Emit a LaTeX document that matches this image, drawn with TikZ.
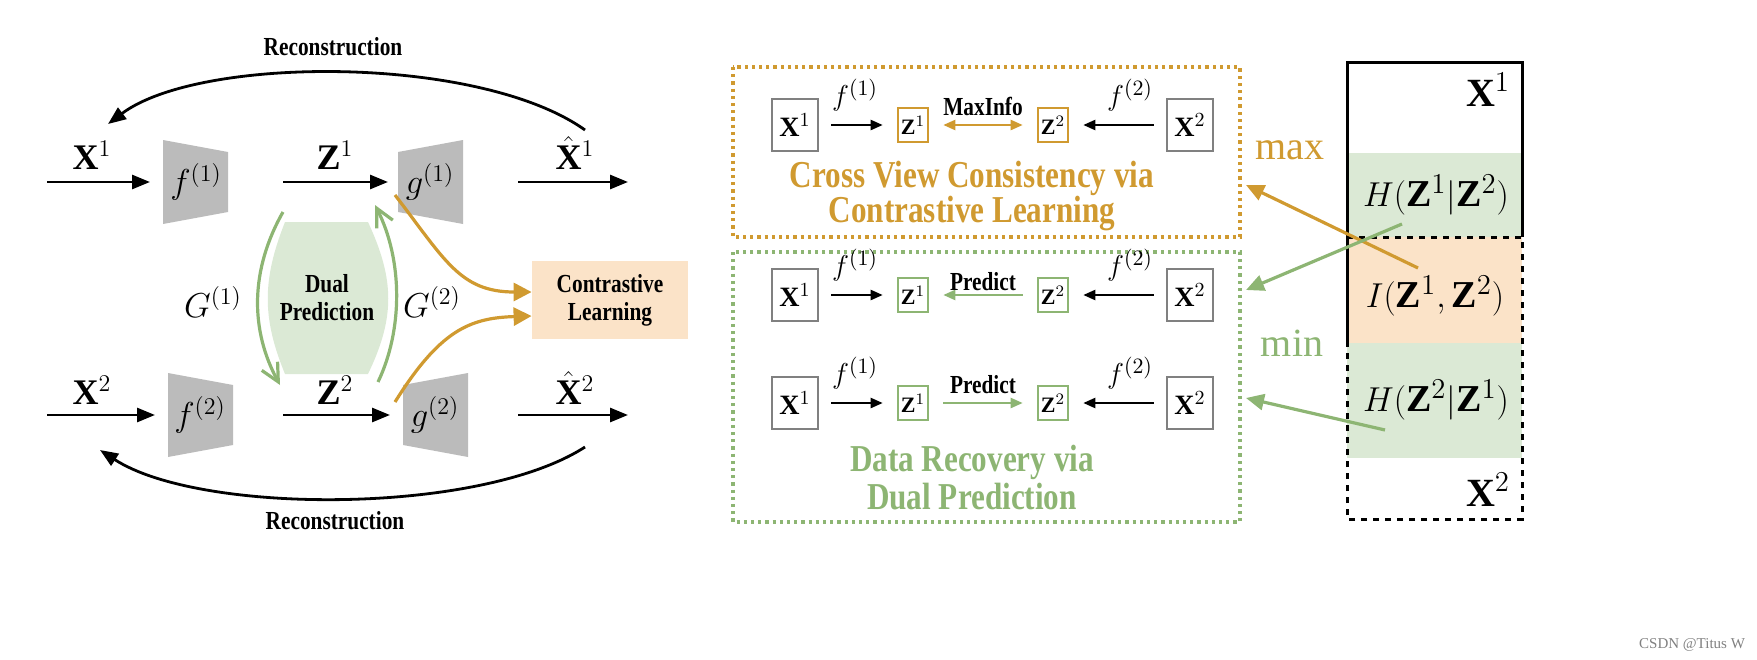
\documentclass[tikz,border=0pt]{standalone}
\usepackage{fontspec}
\setmainfont{Liberation Serif}
\usetikzlibrary{arrows.meta}
\definecolor{gold}{HTML}{D09A30}
\definecolor{grn}{HTML}{8DB573}
\definecolor{gfill}{HTML}{DBE9D5}
\definecolor{peach}{HTML}{FBE3C8}
\definecolor{trap}{HTML}{BBBBBB}
\newcommand{\cond}[1]{\scalebox{0.82}[1]{#1}}
\begin{document}
\begin{tikzpicture}[x=0.5pt,y=-0.5pt,
  arr/.style={-{Triangle[length=9pt,width=7pt]},line width=1.4pt},
  lab/.style={font=\fontsize{18}{20}\selectfont},
  bl/.style={font=\bfseries\fontsize{13}{14}\selectfont},
  xbox/.style={draw=gray,line width=1.3pt,minimum width=23pt,minimum height=26pt,inner sep=0pt,font=\fontsize{14}{16}\selectfont},
  zbox/.style={line width=1.3pt,minimum width=15pt,minimum height=17pt,inner sep=0pt,font=\fontsize{11}{12}\selectfont},
  sm/.style={-{Triangle[length=6pt,width=5pt]},line width=1.1pt},
  flab/.style={font=\fontsize{15}{17}\selectfont},
  title/.style={font=\bfseries\fontsize{19}{19}\selectfont}]
\useasboundingbox (0,0) rectangle (1757,659);
% ---------- left panel ----------
\fill[trap] (163,140) -- (228,152) -- (228,212) -- (163,224) -- cycle;
\fill[trap] (398,152) -- (463,140) -- (463,224) -- (398,212) -- cycle;
\fill[trap] (168,373) -- (233,385) -- (233,445) -- (168,457) -- cycle;
\fill[trap] (403,385) -- (468,373) -- (468,457) -- (403,445) -- cycle;
\node[lab] (f1) at (196,182) {$f^{(1)}$};
\node[lab] (g1) at (430,182) {$g^{(1)}$};
\node[lab] (f2) at (200,415) {$f^{(2)}$};
\node[lab] (g2) at (435,415) {$g^{(2)}$};
\coordinate (a1) at (47,182); \coordinate (a2) at (150,182);
\coordinate (b1) at (283,182); \coordinate (b2) at (388,182);
\coordinate (c1) at (518,182); \coordinate (c2) at (628,182);
\coordinate (d1) at (47,415); \coordinate (d2) at (155,415);
\coordinate (e1) at (283,415); \coordinate (e2) at (390,415);
\coordinate (h1) at (518,415); \coordinate (h2) at (628,415);
\draw[arr] (a1) -- (a2); \draw[arr] (b1) -- (b2); \draw[arr] (c1) -- (c2);
\draw[arr] (d1) -- (d2); \draw[arr] (e1) -- (e2); \draw[arr] (h1) -- (h2);
\node[lab] (lx1) at (92,155) {$\mathbf{X}^1$};
\node[lab] (lz1) at (335,155) {$\mathbf{Z}^1$};
\node[lab] (lh1) at (575,153) {$\hat{\mathbf{X}}^1$};
\node[lab] (lx2) at (92,390) {$\mathbf{X}^2$};
\node[lab] (lz2) at (335,390) {$\mathbf{Z}^2$};
\node[lab] (lh2) at (575,388) {$\hat{\mathbf{X}}^2$};
\coordinate (r1s) at (585,130); \coordinate (r1e) at (108,124);
\draw[arr] (r1s) .. controls (480,55) and (200,55) .. (r1e);
\node[bl] (rec1) at (333,47) {\cond{Reconstruction}};
\coordinate (r2s) at (585,447); \coordinate (r2e) at (100,450);
\draw[arr] (r2s) .. controls (480,515) and (200,515) .. (r2e);
\node[bl] (rec2) at (335,521) {\cond{Reconstruction}};
% dual prediction
\fill[gfill] (285,222) -- (368,222) .. controls (395,280) and (395,318) .. (368,374) -- (285,374) .. controls (262,318) and (262,280) .. (285,222) -- cycle;
\node[bl,align=center] (dp) at (327,298) {\cond{Dual}\\\cond{Prediction}};
\coordinate (gs1) at (283,212); \coordinate (ge1) at (280,385);
\draw[grn,line width=1.6pt,-{Straight Barb[length=9pt,width=9pt]}] (gs1) .. controls (250,270) and (250,330) .. (ge1);
\coordinate (gs2) at (378,382); \coordinate (ge2) at (375,205);
\draw[grn,line width=1.6pt,-{Straight Barb[length=9pt,width=9pt]}] (gs2) .. controls (403,330) and (403,260) .. (ge2);
\node[lab] (G1) at (213,302) {$G^{(1)}$};
\node[lab] (G2) at (432,302) {$G^{(2)}$};
\node[fill=peach,minimum width=78pt,minimum height=39pt,bl,align=center] (cl) at (610,300) {\cond{Contrastive}\\\cond{Learning}};
\coordinate (o1) at (395,195); \coordinate (o2) at (395,402);
\draw[gold,line width=1.6pt,-{Triangle[length=9pt,width=9pt]}] (o1) .. controls (445,260) and (460,292) .. (cl.west|-0,292);
\draw[gold,line width=1.6pt,-{Triangle[length=9pt,width=9pt]}] (o2) .. controls (440,330) and (470,318) .. (cl.west|-0,316);
% ---------- middle panel ----------
\draw[gold,line width=1.6pt,dotted] (733,67) rectangle (1240,237);
\draw[grn,line width=1.6pt,dotted] (733,252) rectangle (1240,522);
\foreach \r/\y/\c in {1/125/gold,2/295/grn,3/403/grn}{
  \node[xbox] (xa\r) at (795,\y) {$\mathbf{X}^1$};
  \node[zbox,draw=\c] (za\r) at (913,\y) {$\mathbf{Z}^1$};
  \node[zbox,draw=\c] (zb\r) at (1053,\y) {$\mathbf{Z}^2$};
  \node[xbox] (xb\r) at (1190,\y) {$\mathbf{X}^2$};
  \draw[sm] ([xshift=6pt]xa\r.east) -- ([xshift=-7pt]za\r.west);
  \draw[sm] ([xshift=-6pt]xb\r.west) -- ([xshift=7pt]zb\r.east);
  \node[flab] (fa\r) at (855,\y-30) {$f^{(1)}$};
  \node[flab] (fb\r) at (1130,\y-30) {$f^{(2)}$};
}
\draw[gold,line width=1.1pt,{Triangle[length=6pt,width=5pt]}-{Triangle[length=6pt,width=5pt]}] ([xshift=7pt]za1.east) -- ([xshift=-7pt]zb1.west);
\draw[grn,sm] ([xshift=-7pt]zb2.west) -- ([xshift=7pt]za2.east);
\draw[grn,sm] ([xshift=7pt]za3.east) -- ([xshift=-7pt]zb3.west);
\node[bl] (mi) at (983,106) {\cond{MaxInfo}};
\node[bl] (p2) at (983,282) {\cond{Predict}};
\node[bl] (p3) at (983,385) {\cond{Predict}};
\node[title,text=gold] (t1a) at (972,178) {\cond{Cross View Consistency via}};
\node[title,text=gold] (t1b) at (972,214) {\cond{Contrastive Learning}};
\node[title,text=grn] (t2a) at (972,462) {\cond{Data Recovery via}};
\node[title,text=grn] (t2b) at (972,497) {\cond{Dual Prediction}};
% ---------- right panel ----------
\fill[gfill] (1347,153) rectangle (1522,237);
\fill[peach] (1347,237) rectangle (1522,343);
\fill[gfill] (1347,343) rectangle (1522,458);
\draw[line width=1.5pt] (1347,343) -- (1347,62) -- (1522,62) -- (1522,237);
\draw[line width=1.5pt,dashed] (1347,237) -- (1522,237) -- (1522,519) -- (1347,519) -- (1347,343);
\node[font=\fontsize{20}{22}\selectfont] (X1) at (1488,90) {$\mathbf{X}^1$};
\node[font=\fontsize{20}{22}\selectfont] (X2) at (1488,490) {$\mathbf{X}^2$};
\node[font=\fontsize{19}{22}\selectfont] (H1) at (1436,195) {$H(\mathbf{Z}^1|\mathbf{Z}^2)$};
\node[font=\fontsize{19}{22}\selectfont] (I) at (1435,296) {$I(\mathbf{Z}^1,\mathbf{Z}^2)$};
\node[font=\fontsize{19}{22}\selectfont] (H2) at (1436,400) {$H(\mathbf{Z}^2|\mathbf{Z}^1)$};
\node[font=\fontsize{20}{22}\selectfont,text=gold] (mx) at (1290,150) {max};
\node[font=\fontsize{20}{22}\selectfont,text=grn] (mn) at (1292,343) {min};
\coordinate (q1) at (1418,268); \coordinate (q1e) at (1246,185);
\coordinate (q2) at (1402,224); \coordinate (q2e) at (1246,290);
\coordinate (q3) at (1385,430); \coordinate (q3e) at (1246,398);
\draw[gold,line width=1.6pt,-{Triangle[length=9pt,width=8pt]}] (q1) -- (q1e);
\draw[grn,line width=1.6pt,-{Triangle[length=9pt,width=8pt]}] (q2) -- (q2e);
\draw[grn,line width=1.6pt,-{Triangle[length=9pt,width=8pt]}] (q3) -- (q3e);
\node[font=\fontsize{7.5}{9}\selectfont,text=gray,anchor=east] (wm) at (1752,645) {CSDN @Titus W};
\end{tikzpicture}
\end{document}
